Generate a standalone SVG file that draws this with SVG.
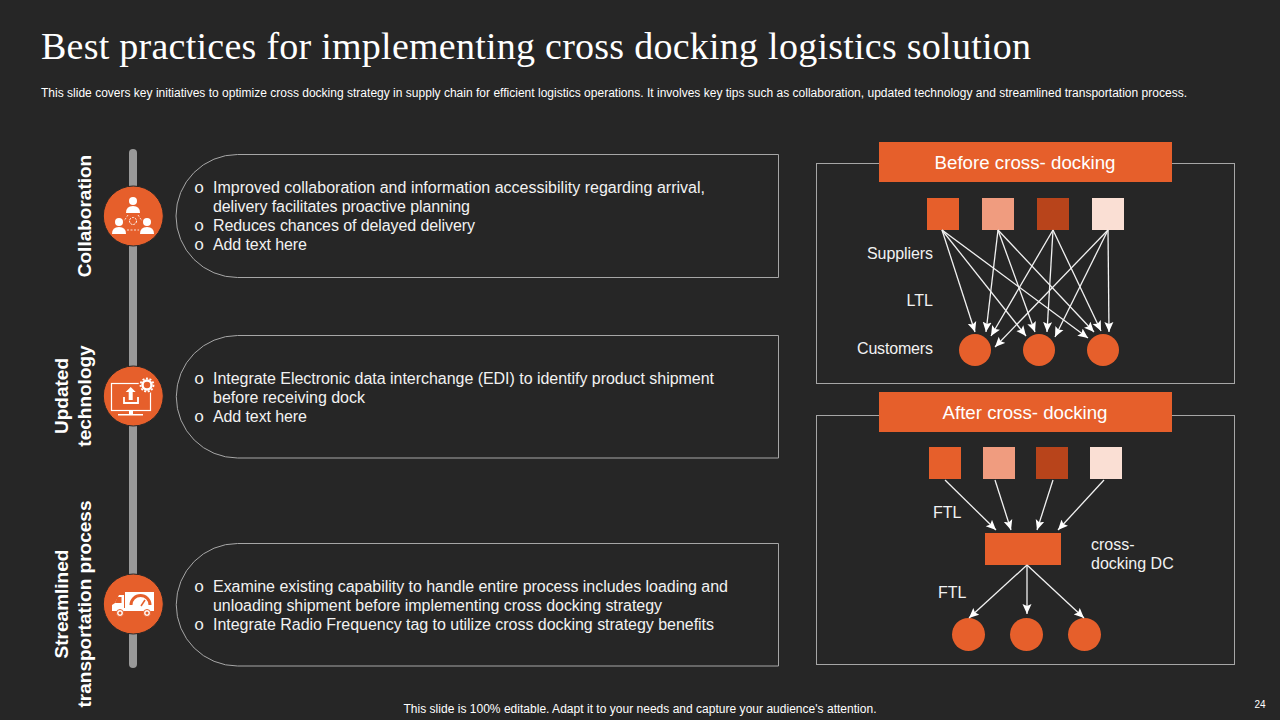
<svg xmlns="http://www.w3.org/2000/svg" width="1280" height="720" viewBox="0 0 1280 720">
<style>
text{font-family:"Liberation Sans",Arial,sans-serif;fill:#fff}
.b{font-size:16px;fill:#f2f2f2}
.m{font-family:"Liberation Mono",monospace;font-size:17px;fill:#f2f2f2}
.l{font-size:16px;fill:#f2f2f2}
.h{font-size:19px;font-weight:700}
.p{fill:none;stroke:#a6a6a6;stroke-width:1}
.c{fill:#e65f2b;stroke:#262626;stroke-width:1}
.f{fill:#e65f2b}
.w{fill:#fff}
.a line{stroke:#f2f2f2;stroke-width:1.3;marker-end:url(#ah)}
.t{font-size:18.7px;text-anchor:middle}
</style>
<defs>
<marker id="ah" markerUnits="userSpaceOnUse" markerWidth="11" markerHeight="10" refX="10" refY="5" orient="auto"><path d="M0 0.5L10 5L0 9.5L2 5Z" fill="#fff"/></marker>
</defs>
<rect width="1280" height="720" fill="#262626"/>
<text id="title" x="41" y="59" style="font-family:'Liberation Serif',serif" font-size="38" textLength="990" lengthAdjust="spacing">Best practices for implementing cross docking logistics solution</text>
<text id="subtitle" x="41" y="97" font-size="12" fill="#f2f2f2" textLength="1146">This slide covers key initiatives to optimize cross docking strategy in supply chain for efficient logistics operations. It involves key tips such as collaboration, updated technology and streamlined transportation process.</text>

<rect id="rail" x="129" y="149" width="8" height="519" rx="4" fill="#999"/>

<g id="label-collaboration"><text class="h" transform="translate(91 216) rotate(-90)" text-anchor="middle">Collaboration</text></g>
<g id="label-updated"><text class="h" transform="translate(68 396) rotate(-90)" text-anchor="middle">Updated</text><text class="h" transform="translate(91 396) rotate(-90)" text-anchor="middle">technology</text></g>
<g id="label-streamlined"><text class="h" transform="translate(68 604) rotate(-90)" text-anchor="middle">Streamlined</text><text class="h" transform="translate(91 604) rotate(-90)" text-anchor="middle">transportation process</text></g>

<g id="icon-collaboration">
<circle class="c" cx="133.300" cy="216" r="30"/>
<circle class="w" cx="133" cy="201" r="4"/><path class="w" d="M126 213q0-7 7-7t7 7z"/>
<circle class="w" cx="119" cy="222" r="4"/><path class="w" d="M112 234q0-7 7-7t7 7z"/>
<circle class="w" cx="147" cy="222" r="4"/><path class="w" d="M140 234q0-7 7-7t7 7z"/>
<circle cx="133" cy="221" r="3.500" fill="none" stroke="#fff" stroke-width="1" stroke-dasharray="2 1"/>
<path d="M128 215l-4 6M138 215l4 6M127 230h12" fill="none" stroke="#fff" stroke-width=".8" stroke-dasharray="2 1.500"/>
</g>
<g id="icon-technology">
<circle class="c" cx="133.300" cy="396" r="30"/>
<rect x="111.500" y="383.500" width="39" height="27" fill="none" stroke="#fff" stroke-width="1.200"/>
<path class="w" d="M129 410h4v4h10v1.500h-25v-1.500h11z"/>
<path d="M124 397v6h14v-6" fill="none" stroke="#fff" stroke-width="1.800"/>
<path class="w" d="M130.700 387l5 5h-3v8h-4v-8h-3z"/>
<circle cx="147" cy="385" r="8.500" fill="#e65f2b"/>
<circle cx="147" cy="385" r="4.500" fill="none" stroke="#fff" stroke-width="2.500"/>
<circle cx="147" cy="385" r="6.500" fill="none" stroke="#fff" stroke-width="1.800" stroke-dasharray="2 1.600"/>
</g>
<g id="icon-transport">
<circle class="c" cx="133.300" cy="604" r="30"/>
<path class="w" d="M125 592h29v18h-29z"/>
<path class="w" d="M124 595h-5l-4 8-3 2v5h12z"/>
<path d="M117.500 597h4v6h-6.500z" fill="#e65f2b"/>
<rect x="112" y="608" width="42" height="3" class="w"/>
<circle cx="120" cy="613" r="3.500" class="w" stroke="#e65f2b" stroke-width="1"/>
<circle cx="147" cy="613" r="3.500" class="w" stroke="#e65f2b" stroke-width="1"/>
<circle cx="120" cy="613" r="1.500" fill="#e65f2b"/><circle cx="147" cy="613" r="1.500" fill="#e65f2b"/>
<path d="M131 605a9.500 9.500 0 0 1 19 0" fill="none" stroke="#e65f2b" stroke-width="3"/>
<path d="M141 606l4-6" stroke="#e65f2b" stroke-width="1.500"/>
</g>

<g id="card-1">
<path class="p" d="M778.500 154.500H237.500a61.500 61.500 0 0 0 0 123H778.500z"/>
<text class="m" x="194" y="193">o</text><text class="b" x="213" y="193" textLength="492">Improved collaboration and information accessibility regarding  arrival,</text>
<text class="b" x="213" y="212" textLength="257">delivery facilitates proactive planning</text>
<text class="m" x="194" y="231">o</text><text class="b" x="213" y="231" textLength="262">Reduces chances of delayed delivery</text>
<text class="m" x="194" y="250">o</text><text class="b" x="213" y="250" textLength="94">Add text here</text>
</g>
<g id="card-2">
<path class="p" d="M778.500 335.500H237.500a61.250 61.250 0 0 0 0 122.500H778.500z"/>
<text class="m" x="194" y="384">o</text><text class="b" x="213" y="384" textLength="501">Integrate Electronic data interchange (EDI) to identify product shipment</text>
<text class="b" x="213" y="403" textLength="152">before receiving dock</text>
<text class="m" x="194" y="422">o</text><text class="b" x="213" y="422" textLength="94">Add text here</text>
</g>
<g id="card-3">
<path class="p" d="M778.500 543.500H237.500a61.250 61.250 0 0 0 0 122.500H778.500z"/>
<text class="m" x="194" y="592">o</text><text class="b" x="213" y="592" textLength="515">Examine existing capability to handle entire process includes loading and</text>
<text class="b" x="213" y="611" textLength="449">unloading shipment before implementing cross docking strategy</text>
<text class="m" x="194" y="630">o</text><text class="b" x="213" y="630" textLength="501">Integrate Radio Frequency tag to utilize cross docking strategy benefits</text>
</g>

<g id="panel-before">
<rect class="p" x="816.500" y="163.500" width="418" height="220"/>
<rect class="f" x="879" y="142" width="293" height="40"/>
<text class="t" x="1025" y="168.500" textLength="181">Before cross- docking</text>
<rect x="927" y="198" width="32" height="32" fill="#e65f2b"/>
<rect x="982" y="198" width="32" height="32" fill="#f09c7f"/>
<rect x="1037" y="198" width="32" height="32" fill="#b8441b"/>
<rect x="1092" y="198" width="32" height="32" fill="#fadfd4"/>
<circle class="f" cx="975" cy="350" r="16"/><circle class="f" cx="1039" cy="350" r="16"/><circle class="f" cx="1103" cy="350" r="16"/>
<text class="l" x="933" y="259" text-anchor="end" textLength="66">Suppliers</text>
<text class="l" x="933" y="306" text-anchor="end">LTL</text>
<text class="l" x="933" y="354" text-anchor="end" textLength="76">Customers</text>
</g>
<g id="panel-after">
<rect class="p" x="816.500" y="415.500" width="418" height="249"/>
<rect class="f" x="879" y="392" width="293" height="40"/>
<text class="t" x="1025" y="418.500" textLength="165">After cross- docking</text>
<rect x="929" y="447" width="32" height="32" fill="#e65f2b"/>
<rect x="983" y="447" width="32" height="32" fill="#f09c7f"/>
<rect x="1036" y="447" width="32" height="32" fill="#b8441b"/>
<rect x="1090" y="447" width="32" height="32" fill="#fadfd4"/>
<rect class="f" x="985" y="533" width="76" height="32"/>
<circle class="f" cx="968.500" cy="634.500" r="16.500"/><circle class="f" cx="1026.500" cy="634.500" r="16.500"/><circle class="f" cx="1084.500" cy="634.500" r="16.500"/>
<text class="l" x="933" y="518">FTL</text>
<text class="l" x="938" y="598">FTL</text>
<text class="l" x="1091" y="550">cross-</text>
<text class="l" x="1091" y="569">docking DC</text>
</g>

<g id="connectors" class="a">
<line x1="942" y1="230" x2="975" y2="332"/>
<line x1="942" y1="230" x2="1026" y2="336"/>
<line x1="942" y1="230" x2="1088" y2="338"/>
<line x1="998" y1="230" x2="986" y2="332"/>
<line x1="998" y1="230" x2="1035" y2="332"/>
<line x1="998" y1="230" x2="1094" y2="332"/>
<line x1="1053" y1="230" x2="991" y2="336"/>
<line x1="1053" y1="230" x2="1047" y2="332"/>
<line x1="1053" y1="230" x2="1101" y2="331"/>
<line x1="1108" y1="230" x2="995" y2="347"/>
<line x1="1108" y1="230" x2="1055" y2="337"/>
<line x1="1108" y1="230" x2="1109" y2="332"/>
<line x1="945" y1="480" x2="996" y2="530"/>
<line x1="995" y1="480" x2="1011" y2="530"/>
<line x1="1053" y1="480" x2="1037" y2="530"/>
<line x1="1104" y1="480" x2="1058" y2="530"/>
<line x1="1027" y1="565" x2="969" y2="618"/>
<line x1="1027" y1="565" x2="1027" y2="614"/>
<line x1="1027" y1="565" x2="1084" y2="618"/>
</g>
<text id="footer" x="640" y="713" font-size="12" text-anchor="middle" fill="#f2f2f2" textLength="473">This slide is 100% editable. Adapt it to your needs and capture your audience's attention.</text>
<text id="page" x="1260" y="708" font-size="10" text-anchor="middle" fill="#f2f2f2">24</text>
</svg>
